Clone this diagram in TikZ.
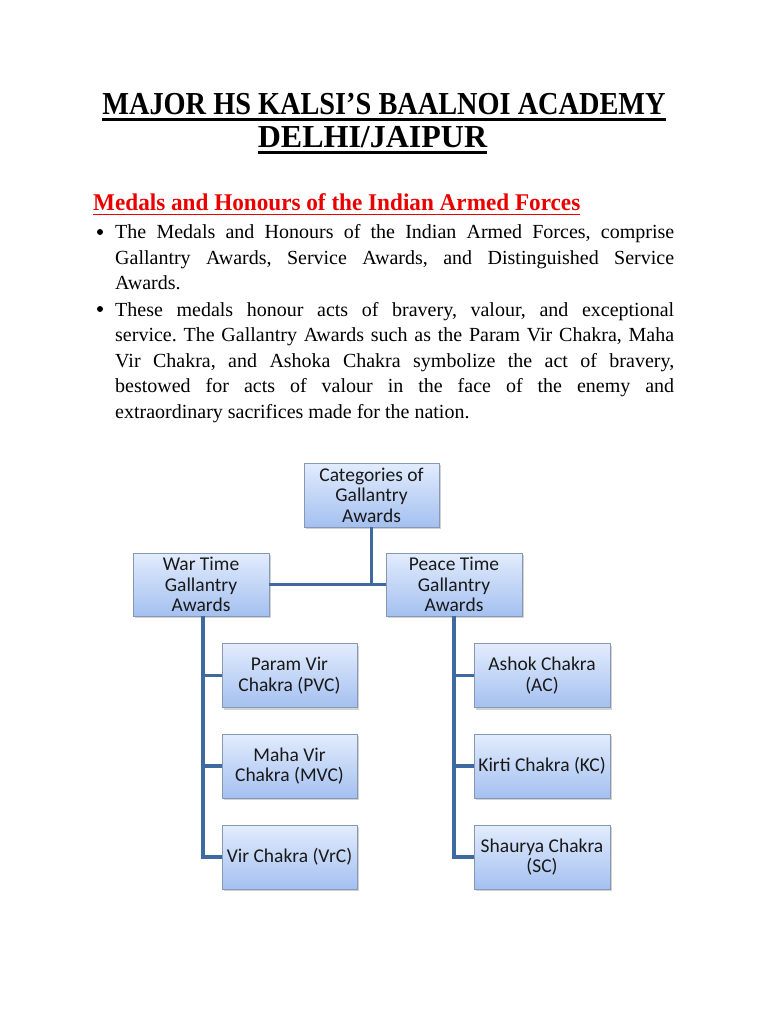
\documentclass[tikz,border=0pt]{standalone}
\usepackage{fontspec}
\setmainfont{Liberation Serif}
\newfontfamily\calfont{Carlito}
\usetikzlibrary{shadows}
\frenchspacing
\definecolor{linkblue}{RGB}{62,106,160}
\definecolor{boxtop}{RGB}{226,236,253}
\definecolor{boxbot}{RGB}{164,192,240}
\definecolor{boxedge}{RGB}{135,152,182}
\definecolor{headred}{RGB}{235,0,0}
\tikzset{
  gbox/.style={rectangle, draw=boxedge, line width=0.9pt, top color=boxtop, bottom color=boxbot,
    minimum width=136pt, minimum height=64pt, inner sep=1pt, align=center,
    font=\calfont\fontsize{19.5}{20.5}\selectfont, text=black!90,
    drop shadow={opacity=0.35, shadow xshift=2pt, shadow yshift=-2pt}},
  link/.style={draw=linkblue, line width=3.5pt},
  bodyline/.style={anchor=base west, inner sep=0pt, font=\fontsize{20}{24}\selectfont},
  bul/.style={circle, fill=black, inner sep=0pt, minimum size=6pt},
  titlenode/.style={anchor=base, inner sep=0pt, font=\bfseries\fontsize{32}{38}\selectfont}
}
\begin{document}
\begin{tikzpicture}[x=1pt,y=-1pt]
\useasboundingbox[fill=white] (0,0) rectangle (768,1024);
% titles
\node[titlenode, xscale=0.885, transform shape] (t1) at (384,115) {MAJOR HS KALSI’S BAALNOI ACADEMY};
\node[titlenode] (t2) at (372.5,148) {DELHI/JAIPUR};
\draw[line width=2.3pt] ([yshift=-4.5pt]t1.base west) -- ([yshift=-4.5pt]t1.base east);
\draw[line width=2.3pt] ([yshift=-4.5pt]t2.base west) -- ([yshift=-4.5pt]t2.base east);
\node[anchor=base west, inner sep=0pt, text=headred, xscale=0.966, transform shape, font=\bfseries\fontsize{24}{28}\selectfont] (h) at (93,211) {Medals and Honours of the Indian Armed Forces};
\draw[headred, line width=1.6pt] ([yshift=-3.5pt]h.base west) -- ([yshift=-3.5pt]h.base east);
% bullets
\node[bul] (b1) at (100,232) {};
\node[bul] (b2) at (100,309) {};
\node[bodyline] (l1) at (115,239) {\makebox[559pt][s]{The Medals and Honours of the Indian Armed Forces, comprise}};
\node[bodyline] (l2) at (115,264) {\makebox[559pt][s]{Gallantry Awards, Service Awards, and Distinguished Service}};
\node[bodyline] (l3) at (115,289) {Awards.};
\node[bodyline] (l4) at (115,316) {\makebox[559pt][s]{These medals honour acts of bravery, valour, and exceptional}};
\node[bodyline] (l5) at (115,341) {\makebox[559pt][s]{service. The Gallantry Awards such as the Param Vir Chakra, Maha}};
\node[bodyline] (l6) at (115,367) {\makebox[559pt][s]{Vir Chakra, and Ashoka Chakra symbolize the act of bravery,}};
\node[bodyline] (l7) at (115,392) {\makebox[559pt][s]{bestowed for acts of valour in the face of the enemy and}};
\node[bodyline] (l8) at (115,418) {extraordinary sacrifices made for the nation.};
% diagram
\node[gbox, minimum width=135pt] (top) at (371.5,495) {Categories of\\Gallantry\\Awards};
\node[gbox, minimum height=63pt] (war) at (201,584.5) {War Time\\Gallantry\\Awards};
\node[gbox, minimum height=63pt] (peace) at (454,584.5) {Peace Time\\Gallantry\\Awards};
\node[gbox, minimum width=135pt] (pvc) at (289.5,675.5) {Param Vir\\Chakra (PVC)};
\node[gbox, minimum width=135pt] (mvc) at (289.5,766) {Maha Vir\\Chakra (MVC)};
\node[gbox, minimum width=135pt] (vrc) at (289.5,857) {Vir Chakra (VrC)};
\node[gbox] (ac) at (542,675.5) {Ashok Chakra\\(AC)};
\node[gbox] (kc) at (542,766) {Kirti Chakra (KC)};
\node[gbox] (sc) at (542,857) {Shaurya Chakra\\(SC)};
\draw[link] (war.east) -- (peace.west);
\draw[link] (top.south) -- (top.south |- war.east);
\coordinate (wl) at ([xshift=2pt]war.south);
\coordinate (pl) at (peace.south);
\draw[link] (wl) |- (pvc.west);
\draw[link] (wl) |- (mvc.west);
\draw[link] (wl) |- (vrc.west);
\draw[link] (pl) |- (ac.west);
\draw[link] (pl) |- (kc.west);
\draw[link] (pl) |- (sc.west);
\end{tikzpicture}
\end{document}
